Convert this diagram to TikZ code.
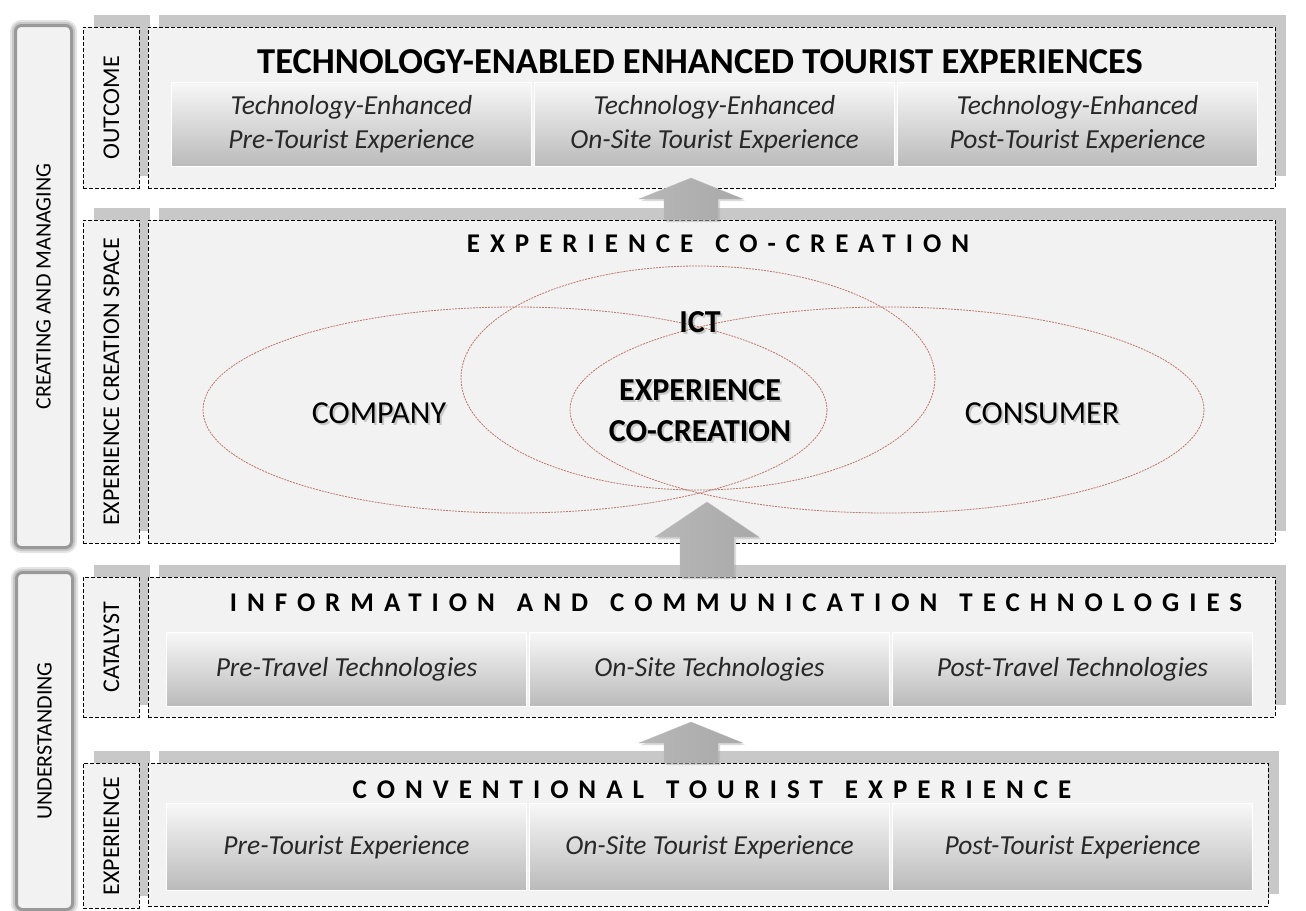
\documentclass[tikz,border=0pt]{standalone}
\usepackage{fontspec}
\setmainfont{Carlito}
\newfontfamily\spacedfont[LetterSpace=37]{Carlito}
\usetikzlibrary{shadows,calc}

\definecolor{boxgray}{RGB}{242,242,242}
\definecolor{barshade}{RGB}{200,200,200}
\definecolor{vennline}{RGB}{185,120,110}
\definecolor{subtext}{RGB}{40,40,40}

\tikzset{
  dashbox/.style={draw, dash pattern=on 4pt off 2pt, line width=.7pt, fill=boxgray,
    anchor=north west, inner sep=0pt,
    drop shadow={shadow xshift=11pt, shadow yshift=12pt, fill=barshade, opacity=1}},
  lblbox/.style={dashbox, minimum width=56pt},
  sidebox/.style={anchor=north west, inner sep=0pt, minimum width=56pt, fill=black!5,
    draw=black!40, line width=3pt, rounded corners=6pt,
    preaction={draw=black!10, line width=11pt},
    preaction={draw=black!22, line width=7pt}},
  subbox/.style={anchor=north west, inner sep=0pt, minimum width=360pt, draw=white,
    line width=1pt, top color=black!3, bottom color=black!27, align=center,
    text=subtext, font=\fontsize{27.5}{34}\selectfont\itshape},
  rowtitle/.style={font=\fontsize{27}{32}\selectfont\spacedfont\bfseries},
  sidelbl/.style={rotate=90, font=\fontsize{22}{26}\selectfont},
  smalllbl/.style={rotate=90, font=\fontsize{24}{28}\selectfont},
  venn/.style={draw=vennline, dash pattern=on 2pt off 1pt, line width=.8pt},
  vennlbl/.style={font=\fontsize{32}{41}\selectfont, align=center},
  vennshadow/.style={vennlbl, text=black!60, opacity=.3},
  bigarrow/.style={left color=black!28, middle color=black!12, right color=black!34,
    draw=black!25, line width=.4pt,
    drop shadow={shadow xshift=2pt, shadow yshift=-2pt, fill=black!35, opacity=.4}}
}

\begin{document}
\begin{tikzpicture}[x=1pt,y=-1pt]
  \useasboundingbox[fill=white] (0,0) rectangle (1306,910);

  % side boxes
  \node[sidebox, minimum height=522pt] (manage) at (14,24) {};
  \node[sidelbl] (managetxt) at (manage.center) {CREATING AND MANAGING};
  \node[sidebox, minimum height=337pt] (understand) at (15,571) {};
  \node[sidelbl] (understandtxt) at (understand.center) {UNDERSTANDING};

  % outcome row
  \node[lblbox, minimum height=161pt] (outcomelbl) at (83,27) {};
  \node[smalllbl] (outcometxt) at (outcomelbl.center) {OUTCOME};
  \node[dashbox, minimum width=1127pt, minimum height=161pt] (outcome) at (148,27) {};
  \node[font=\fontsize{36.5}{40}\selectfont\bfseries] (outcometitle) at (700,62)
    {TECHNOLOGY-ENABLED ENHANCED TOURIST EXPERIENCES};
  \node[subbox, minimum height=84pt] (outpre) at (171,82)
    {Technology-Enhanced\\Pre-Tourist Experience};
  \node[subbox, minimum height=84pt] (outsite) at (534,82)
    {Technology-Enhanced\\On-Site Tourist Experience};
  \node[subbox, minimum height=84pt] (outpost) at (897,82)
    {Technology-Enhanced\\Post-Tourist Experience};

  % co-creation space
  \node[lblbox, minimum height=323pt] (spacelbl) at (83,220) {};
  \node[smalllbl] (spacetxt) at (spacelbl.center) {EXPERIENCE CREATION SPACE};
  \node[dashbox, minimum width=1127pt, minimum height=323pt] (space) at (148,220) {};
  \node[rowtitle] (spacetitle) at (718,244) {EXPERIENCE\hspace{6pt} CO-CREATION};

  \draw[venn] (515,410) ellipse [x radius=312, y radius=103];
  \draw[venn] (887,410) ellipse [x radius=317, y radius=103];
  \draw[venn] (698,378) ellipse [x radius=237, y radius=112];

  \node[vennshadow] (companysh) at (381,415) {COMPANY};
  \node[vennlbl] (company) at (379,413) {COMPANY};
  \node[vennshadow] (consumersh) at (1044,415) {CONSUMER};
  \node[vennlbl] (consumer) at (1042,413) {CONSUMER};
  \node[vennshadow, font=\fontsize{32}{41}\selectfont\bfseries] (ictsh) at (702,324) {ICT};
  \node[vennlbl, font=\fontsize{32}{41}\selectfont\bfseries] (ict) at (700,322) {ICT};
  \node[vennshadow, font=\fontsize{32}{41}\selectfont\bfseries] (cocreatesh) at (702,413)
    {EXPERIENCE\\CO-CREATION};
  \node[vennlbl, font=\fontsize{32}{41}\selectfont\bfseries] (cocreate) at (700,411)
    {EXPERIENCE\\CO-CREATION};

  % catalyst row
  \node[lblbox, minimum height=140pt] (catalystlbl) at (83,577) {};
  \node[smalllbl] (catalysttxt) at (catalystlbl.center) {CATALYST};
  \node[dashbox, minimum width=1127pt, minimum height=140pt] (catalyst) at (148,577) {};
  \node[rowtitle] (catalysttitle) at (736,603)
    {INFORMATION\hspace{6pt} AND\hspace{6pt} COMMUNICATION\hspace{6pt} TECHNOLOGIES};
  \node[subbox, minimum height=74pt] (techpre) at (166,632) {Pre-Travel Technologies};
  \node[subbox, minimum height=74pt] (techsite) at (529,632) {On-Site Technologies};
  \node[subbox, minimum height=74pt] (techpost) at (892,632) {Post-Travel Technologies};

  % experience row
  \node[lblbox, minimum height=145pt] (experiencelbl) at (83,763) {};
  \node[smalllbl] (experiencetxt) at (experiencelbl.center) {EXPERIENCE};
  \node[dashbox, minimum width=1120pt, minimum height=143pt] (experience) at (148,763) {};
  \node[rowtitle] (experiencetitle) at (712,790)
    {CONVENTIONAL\hspace{6pt} TOURIST\hspace{6pt} EXPERIENCE};
  \node[subbox, minimum height=87pt] (exppre) at (166,803) {Pre-Tourist Experience};
  \node[subbox, minimum height=87pt] (expsite) at (529,803) {On-Site Tourist Experience};
  \node[subbox, minimum height=87pt] (exppost) at (892,803) {Post-Tourist Experience};

  % arrows between the rows
  \shade[bigarrow] (691,0 |- space.north) ++(-27,0) -- ++(0,-21) -- ++(-25,0)
    -- ++(52,-21) -- ++(52,21) -- ++(-25,0) -- ++(0,21) -- cycle;
  \shade[bigarrow] (707,0 |- catalyst.north) ++(-27,0) -- ++(0,-40) -- ++(-25,0)
    -- ++(52,-35) -- ++(52,35) -- ++(-25,0) -- ++(0,40) -- cycle;
  \shade[bigarrow] (691,0 |- experience.north) ++(-27,0) -- ++(0,-20) -- ++(-25,0)
    -- ++(52,-21) -- ++(52,21) -- ++(-25,0) -- ++(0,20) -- cycle;
\end{tikzpicture}
\end{document}
